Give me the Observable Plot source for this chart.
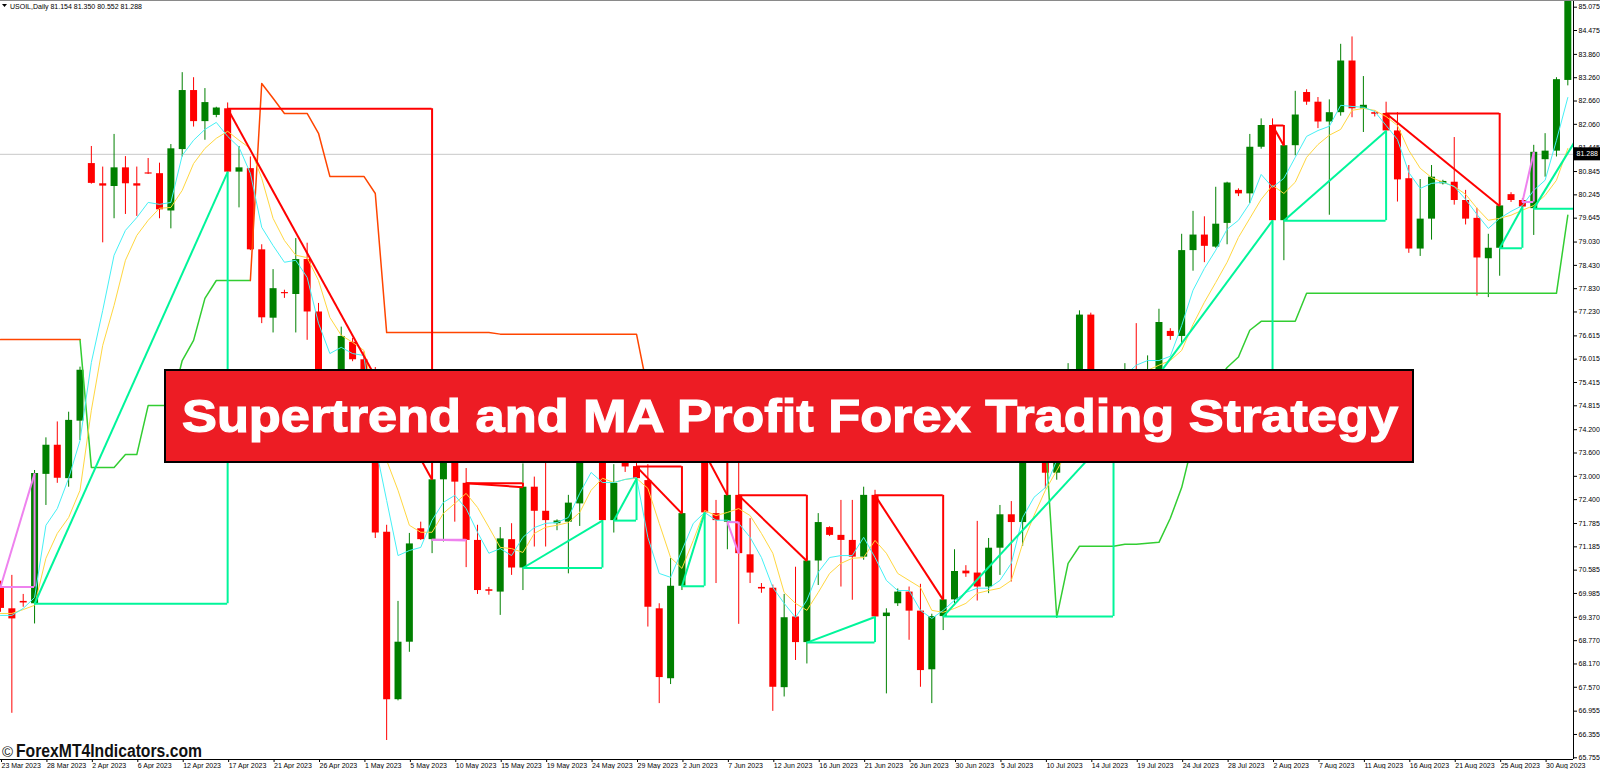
<!DOCTYPE html>
<html><head><meta charset="utf-8">
<script src="https://cdn.jsdelivr.net/npm/d3@7"></script>
<script src="https://cdn.jsdelivr.net/npm/@observablehq/plot@0.6"></script>
<style>
html,body{margin:0;padding:0;background:#fff;}
#wrap{position:relative;width:1600px;height:769px;overflow:hidden;background:#fff;}
#wrap svg{display:block;}
#overlay{position:absolute;left:0;top:0;pointer-events:none;}
</style></head><body><div id="wrap"></div>
<script>
// ---- Data (USOIL Daily, bar index 0 = 23 Mar 2023) ----
const open = [70.15,69.59,69.78,69.72,73.05,73.80,72.94,74.42,81.05,80.53,
80.46,80.94,80.53,80.81,80.79,79.83,81.41,82.93,82.13,82.29,
82.46,80.83,80.92,78.83,77.07,77.73,77.68,78.58,77.23,74.30,
74.80,76.45,76.00,75.55,71.56,67.25,68.73,71.65,71.37,72.91,
73.60,72.82,71.35,70.08,70.02,71.37,70.64,72.72,72.10,71.78,
71.82,72.29,73.50,74.30,71.86,73.34,73.25,72.89,69.59,67.79,
70.17,73.60,73.60,72.04,71.82,72.51,70.98,70.14,70.12,67.56,
69.38,68.72,70.82,71.68,71.48,71.35,70.92,72.51,69.39,69.72,
70.02,69.53,68.02,69.39,69.82,70.56,70.51,70.15,71.15,72.01,
71.81,73.80,73.75,73.08,74.80,75.75,77.15,75.40,75.30,74.15,
75.75,75.35,75.63,76.73,76.60,78.81,79.21,78.90,79.51,80.36,
80.27,81.47,82.03,79.58,81.51,82.88,82.63,82.12,82.36,83.69,
82.46,82.36,82.34,81.89,80.66,78.85,79.62,80.53,80.57,80.10,
79.64,78.60,78.87,80.25,80.10,79.89,81.15,81.37,83.19];
const high = [70.30,70.45,69.96,73.15,73.99,74.40,74.65,75.81,81.49,80.96,
81.80,81.23,80.96,81.18,81.06,81.54,83.39,83.26,82.98,82.50,
82.61,81.49,81.22,78.96,78.32,77.79,79.12,79.00,77.45,75.10,
76.84,76.55,76.20,75.80,71.74,69.78,71.53,71.82,73.00,73.90,
74.00,73.20,71.74,70.14,71.68,71.78,73.32,72.98,73.34,71.88,
72.51,74.00,74.60,74.60,73.30,73.40,73.40,73.30,69.72,70.88,
72.60,75.00,74.80,72.38,73.40,73.34,71.91,70.24,70.20,69.96,
70.66,70.95,72.04,71.70,72.38,72.38,72.72,72.64,69.59,70.10,
70.15,70.22,69.45,69.89,71.11,70.70,71.84,71.40,72.25,72.35,
74.00,73.95,74.10,74.95,75.90,77.26,77.20,75.50,75.60,75.90,
76.93,76.10,77.30,76.80,79.23,79.82,79.68,80.44,80.57,80.40,
81.80,82.20,82.20,81.53,82.91,82.95,82.75,82.69,84.12,84.31,
83.29,82.40,82.63,82.36,81.00,80.64,81.00,80.62,81.72,80.36,
79.90,79.23,80.02,80.30,80.15,81.52,81.82,83.26,85.90];
const low = [69.50,66.90,69.63,69.20,72.25,72.82,72.72,73.92,80.52,79.01,
79.63,79.74,79.69,80.77,79.63,79.37,81.22,81.99,81.65,82.23,
80.79,79.91,78.81,76.93,76.69,77.58,76.69,76.50,73.90,73.85,
74.60,75.95,75.10,71.40,66.20,67.22,68.47,71.35,71.01,71.31,
71.82,70.65,69.96,69.94,69.42,70.45,70.06,71.18,71.18,71.60,
70.49,71.71,73.40,71.60,71.54,73.10,72.85,69.12,67.15,67.64,
70.06,73.50,71.90,70.24,71.11,69.19,70.24,69.99,66.95,67.32,
68.26,68.17,70.19,71.45,70.15,69.81,70.84,69.35,67.40,69.65,
68.78,67.57,67.15,69.03,69.72,70.40,69.79,69.98,70.45,70.28,
71.20,73.60,72.68,72.90,74.50,75.50,75.10,75.20,73.95,74.00,
75.10,75.00,75.40,76.50,76.40,78.28,78.50,78.87,78.96,80.20,
80.02,81.42,79.45,78.55,81.25,82.55,81.95,79.72,82.27,82.23,
81.85,82.25,81.89,80.06,78.74,78.66,79.08,80.50,79.98,79.47,
77.64,77.60,78.15,80.05,79.85,79.20,80.70,81.22,83.05];
const close = [69.60,69.33,69.74,73.07,73.80,72.95,74.44,75.73,80.54,80.47,
80.94,80.53,80.47,80.78,79.86,81.43,82.93,82.13,82.62,82.48,
80.83,80.94,78.83,77.08,77.83,77.70,78.58,77.23,74.30,74.80,
76.60,76.00,75.55,71.54,67.25,68.73,71.26,71.37,72.91,73.60,
72.85,71.35,70.06,70.04,71.39,70.64,72.72,72.10,71.86,71.85,
72.31,73.50,74.30,71.86,72.82,73.24,72.94,69.63,67.82,70.17,
72.04,73.70,72.06,71.86,72.51,71.01,70.51,70.10,67.57,69.36,
68.72,70.82,71.81,71.48,71.35,70.92,72.51,69.38,69.48,70.02,
69.53,68.00,69.39,69.82,70.55,70.49,70.15,71.15,72.01,71.81,
73.80,73.75,73.08,74.80,75.75,77.15,75.40,75.30,74.15,75.75,
75.35,75.63,76.96,76.60,78.81,79.21,78.92,79.49,80.55,80.27,
81.47,82.03,79.58,81.51,82.30,82.63,82.12,82.36,83.69,82.46,
82.55,82.32,81.89,80.63,78.85,79.62,80.70,80.59,80.10,79.62,
78.62,78.87,79.96,80.10,79.93,81.34,81.37,83.21,85.70];
// fast MA (aqua) and slow MA (gold)
const maFast = [69.42,69.42,69.60,69.88,71.74,72.17,72.95,73.92,75.93,77.27,
78.69,79.33,79.66,80.05,80.00,80.05,81.26,81.65,81.93,82.11,
81.75,81.47,80.80,79.41,78.94,78.51,78.56,78.12,76.94,76.16,
76.32,76.16,76.11,73.80,72.38,70.96,71.09,71.17,71.87,72.33,
72.51,72.17,71.56,71.02,71.14,70.96,71.43,71.68,71.79,71.81,
71.94,72.56,73.10,72.84,72.84,72.92,72.97,71.43,70.50,70.40,
71.09,71.79,72.07,71.87,71.87,71.79,71.43,70.91,70.14,69.73,
69.37,69.81,70.53,70.91,70.96,70.96,71.43,70.91,70.32,70.06,
70.06,69.55,69.34,69.55,69.81,70.01,70.12,70.12,70.32,70.76,
71.94,72.46,72.71,73.41,74.31,75.34,75.60,75.67,75.47,75.60,
75.86,75.98,75.98,76.09,76.88,77.79,78.35,78.82,79.36,79.59,
80.03,80.77,80.44,80.67,81.21,81.75,81.90,82.01,82.55,82.52,
82.50,82.39,82.03,81.67,80.82,80.41,80.54,80.57,80.46,80.13,
79.74,79.38,79.64,79.82,79.97,80.36,80.62,81.65,82.75];
const maSlow = [69.47,69.47,69.57,69.68,70.89,71.53,71.94,72.64,74.70,76.37,
77.40,78.56,79.20,79.59,79.90,79.92,80.36,81.05,81.44,81.70,
81.88,81.65,81.44,80.67,79.64,79.07,78.69,78.63,78.04,77.09,
76.63,76.45,76.24,74.95,73.41,72.64,71.74,71.56,71.56,72.05,
72.30,72.56,72.20,71.69,71.17,71.14,71.04,71.53,71.69,71.74,
71.81,72.07,72.64,72.95,72.84,72.92,72.95,72.69,71.79,70.91,
70.63,71.35,72.12,71.99,72.07,72.17,71.99,71.53,71.02,70.01,
69.73,69.55,70.01,70.50,70.76,70.89,70.91,71.35,71.02,70.50,
70.32,70.14,69.55,69.50,69.60,69.73,69.99,70.06,70.12,70.32,
71.27,71.99,72.64,73.15,73.67,74.44,74.95,75.21,75.34,75.47,
75.60,75.73,75.86,75.98,76.24,76.91,77.48,77.99,78.51,79.15,
79.64,80.13,80.49,80.28,80.57,81.21,81.54,81.78,81.93,82.42,
82.47,82.42,82.26,82.03,81.39,80.93,80.69,80.57,80.46,80.26,
79.90,79.59,79.64,79.72,79.85,79.97,80.23,80.62,81.44];
// Supertrend: lower band (up trend) and upper band (down trend); null = not drawn
const _ = null;
const stUp = [_,_,_,_,_,_,_,76.52,73.23,73.23,
73.23,73.56,73.56,74.82,74.82,74.82,75.98,76.50,77.58,78.04,
78.04,78.04,78.04,_,_,_,_,_,_,_,
_,_,_,_,_,_,_,_,_,_,
_,_,_,_,_,_,_,_,_,_,
_,_,_,_,_,_,_,_,_,_,
_,_,_,_,_,_,_,_,_,_,
_,_,_,_,_,_,_,_,_,_,
_,_,_,_,_,_,_,_,_,_,
_,_,74.00,69.37,70.76,71.20,71.20,71.20,71.20,71.25,
71.25,71.28,71.30,71.92,72.71,73.90,74.90,75.40,75.80,76.07,
76.76,76.99,76.99,76.99,76.99,77.71,77.71,77.71,77.71,77.71,
77.71,77.71,77.71,77.71,77.71,77.71,77.71,77.71,77.71,77.71,
77.71,77.71,77.71,77.71,77.71,77.71,77.71,77.71,79.72];
const stDown = [76.52,76.52,76.52,76.52,76.52,76.52,76.52,76.52,_,_,
_,_,_,_,_,_,_,_,_,_,
_,_,78.04,83.11,82.73,82.34,82.34,82.34,81.83,80.72,
80.72,80.72,80.72,80.28,76.70,76.70,76.70,76.70,76.70,76.70,
76.70,76.70,76.70,76.70,76.66,76.66,76.66,76.66,76.66,76.66,
76.66,76.66,76.66,76.66,76.66,76.66,76.66,75.20,74.70,74.70,
74.70,74.70,74.70,74.70,74.70,74.70,74.70,74.40,74.40,74.40,
74.40,74.40,74.40,74.40,74.40,74.40,74.40,74.40,74.00,74.00,
74.00,74.00,74.00,74.00,74.00,74.00,74.00,74.00,74.00,74.00,
74.00,74.00,74.00,_,_,_,_,_,_,_,
_,_,_,_,_,_,_,_,_,_,
_,_,_,_,_,_,_,_,_,_,
_,_,_,_,_,_,_,_,_,_,
_,_,_,_,_,_,_,_,_];
// Trade boxes (entry bar, exit bar, entry price, exit price, kind)
const boxStart = [0,3,20,38,41,46,54,56,60,62,64,65,71,77,83,102,112,113,122,132,134,135];
const boxEnd   = [3,20,38,41,46,53,56,60,62,64,65,71,77,83,98,112,113,122,132,134,135,139];
const boxEntry = [70.15,69.72,82.46,71.37,72.82,70.64,71.86,73.25,70.17,73.60,71.82,72.51,68.72,72.51,69.39,75.63,82.03,79.58,82.34,78.87,80.06,79.89];
const boxExit  = [73.07,80.83,72.91,71.35,72.72,71.86,72.94,72.04,72.06,72.51,71.01,70.82,69.38,69.82,74.15,79.58,81.51,81.89,79.96,79.93,81.34,81.80];
const boxKind  = ["alt","buy","sell","alt","sell","buy","buy","sell","buy","sell","alt","sell","buy","sell","buy","buy","sell","buy","sell","buy","alt","buy"];
// Axis ticks
const tickIdx = [0,4,8,12,16,20,24,28,32,36,40,44,48,52,56,60,64,68,72,76,80,84,88,92,96,100,104,108,112,116,120,124,128,132,136];
const tickLabels = ["23 Mar 2023","28 Mar 2023","2 Apr 2023","6 Apr 2023","12 Apr 2023","17 Apr 2023","21 Apr 2023","26 Apr 2023","1 May 2023","5 May 2023","10 May 2023","15 May 2023","19 May 2023","24 May 2023","29 May 2023","2 Jun 2023","7 Jun 2023","12 Jun 2023","16 Jun 2023","21 Jun 2023","26 Jun 2023","30 Jun 2023","5 Jul 2023","10 Jul 2023","14 Jul 2023","19 Jul 2023","24 Jul 2023","28 Jul 2023","2 Aug 2023","7 Aug 2023","11 Aug 2023","16 Aug 2023","21 Aug 2023","25 Aug 2023","30 Aug 2023"];
const yTicks = [85.075,84.475,83.860,83.260,82.660,82.060,81.445,80.845,80.245,79.645,79.030,78.430,77.830,77.230,76.615,76.015,75.415,74.815,74.200,73.600,73.000,72.400,71.785,71.185,70.585,69.985,69.370,68.770,68.170,67.570,66.955,66.355,65.755];
const lastPrice = 81.288;
const headerText = "USOIL,Daily  81.154 81.350 80.552 81.288";
const bannerText = "Supertrend and MA Profit Forex Trading Strategy";

// ---- Build tables ----
const n = open.length;
const bars = d3.range(n).map(i => ({i, o: open[i], h: high[i], l: low[i], c: close[i], col: close[i] >= open[i] ? "#008000" : "#ff0000"}));
const fast = d3.range(n).map(i => ({i, v: maFast[i]}));
const slow = d3.range(n).map(i => ({i, v: maSlow[i]}));
const upBand = d3.range(n).map(i => ({i, v: stUp[i] == null ? NaN : stUp[i]}));
const dnBand = d3.range(n).map(i => ({i, v: stDown[i] == null ? NaN : stDown[i]}));
const kindColor = {buy: "#00F59A", sell: "#ff0000", alt: "#EE82EE"};
const boxes = boxStart.map((s, k) => ({s, e: boxEnd[k], a: boxEntry[k], b: boxExit[k], col: kindColor[boxKind[k]]}));
const labelOf = new Map(tickIdx.map((t, k) => [t, tickLabels[k]]));

const W = 1600, H = 769;
const plot = Plot.plot({
  width: W, height: H,
  marginLeft: 0, marginRight: 27, marginTop: 0, marginBottom: 10,
  x: {type: "linear", domain: [0, 138.5], axis: null},
  y: {domain: [65.711, 85.2475], axis: null},
  color: {type: "identity"},
  style: {background: "transparent", fontFamily: "'Liberation Sans', Arial, sans-serif", overflow: "visible"},
  marks: [
    Plot.ruleY([lastPrice], {stroke: "#c8c8c8", strokeWidth: 1}),
    Plot.ruleX(bars, {x: "i", y1: "l", y2: "h", stroke: "col", strokeWidth: 1, clip: true}),
    Plot.ruleX(bars, {x: "i", y1: "o", y2: "c", stroke: "col", strokeWidth: 7, clip: true}),
    Plot.line(upBand, {x: "i", y: "v", stroke: "#32CD32", strokeWidth: 1.5, clip: true}),
    Plot.line(dnBand, {x: "i", y: "v", stroke: "#FF4500", strokeWidth: 1.5, clip: true}),
    Plot.line(slow, {x: "i", y: "v", stroke: "#FFD740", strokeWidth: 1, clip: true}),
    Plot.line(fast, {x: "i", y: "v", stroke: "#45F0F5", strokeWidth: 1, clip: true}),
    Plot.ruleY(boxes, {y: "a", x1: "s", x2: "e", stroke: "col", strokeWidth: 2, clip: true}),
    Plot.ruleX(boxes, {x: "e", y1: "a", y2: "b", stroke: "col", strokeWidth: 2, clip: true}),
    Plot.link(boxes, {x1: "s", y1: "a", x2: "e", y2: "b", stroke: "col", strokeWidth: 2, clip: true}),
    Plot.ruleX([138.5], {stroke: "#000", strokeWidth: 1}),
    Plot.ruleY([65.711], {stroke: "#000", strokeWidth: 1}),
    Plot.axisY(yTicks, {anchor: "right", tickFormat: d3.format(".3f"), tickSize: 3, tickPadding: 2, fontSize: 7, label: null, stroke: "#000", fill: "#000"}),
    Plot.axisX(tickIdx, {anchor: "bottom", tickFormat: d => labelOf.get(d), tickSize: 3, tickPadding: 1, fontSize: 7, textAnchor: "start", dx: 1, label: null, stroke: "#000", fill: "#000"})
  ]
});
document.getElementById("wrap").appendChild(plot);

// ---- Overlay: header, price tag, banner, watermark ----
const ys = plot.scale("y");
const py = ys.apply(lastPrice);
const ov = d3.select("#wrap").append("svg").attr("id", "overlay").attr("width", W).attr("height", H);
const FF = "'Liberation Sans', Arial, sans-serif";
ov.append("line").attr("x1", 0).attr("x2", W).attr("y1", 0.5).attr("y2", 0.5).attr("stroke", "#8a8a8a");
ov.append("path").attr("d", "M2,4 L7,4 L4.5,7 Z").attr("fill", "#000");
ov.append("text").attr("x", 10).attr("y", 8.5).attr("font-size", 7).attr("fill", "#000")
  .attr("font-family", FF).text(headerText);

ov.append("rect").attr("x", 1574).attr("y", py - 6.5).attr("width", 26).attr("height", 13).attr("fill", "#000");
ov.append("text").attr("x", 1598).attr("y", py + 2.5).attr("text-anchor", "end").attr("fill", "#fff")
  .attr("font-size", 7).attr("font-family", FF).text(lastPrice.toFixed(3));

ov.append("rect").attr("x", 165).attr("y", 370).attr("width", 1248).attr("height", 92)
  .attr("fill", "#ED1C24").attr("stroke", "#000").attr("stroke-width", 2);
ov.append("text").attr("x", 182).attr("y", 432).attr("font-size", 46).attr("font-weight", 900)
  .attr("font-family", FF).attr("fill", "#fff")
  .attr("stroke", "#fff").attr("stroke-width", 1.2)
  .attr("textLength", 1216).attr("lengthAdjust", "spacingAndGlyphs").text(bannerText);

ov.append("text").attr("x", 2).attr("y", 757).attr("font-size", 15).attr("fill", "#222")
  .attr("font-family", FF).text("\u00A9");
ov.append("text").attr("x", 16).attr("y", 757).attr("font-size", 18).attr("font-weight", 700)
  .attr("font-family", FF).attr("fill", "#111")
  .attr("textLength", 186).attr("lengthAdjust", "spacingAndGlyphs").text("ForexMT4Indicators.com");
</script>
</body></html>
